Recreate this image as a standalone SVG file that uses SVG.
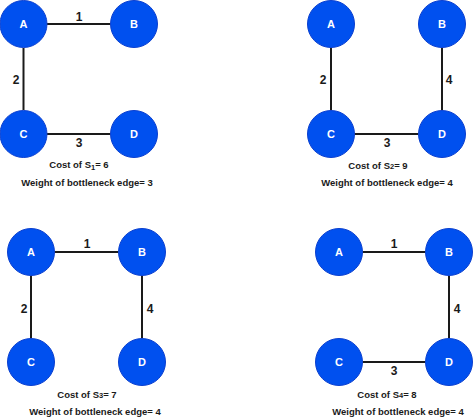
<svg xmlns="http://www.w3.org/2000/svg" width="474" height="418" viewBox="0 0 474 418">
<style>
.n{fill:#0050ef;stroke:#0a3fd0;stroke-width:1}
.nt{fill:#fff;font-family:"Liberation Sans",Arial,sans-serif;font-weight:bold;font-size:11px;text-anchor:middle}
.e{stroke:#1a1a1a;stroke-width:2;fill:none}
.l{fill:#1a1a1a;font-family:"Liberation Sans",Arial,sans-serif;font-weight:bold;font-size:12px;text-anchor:middle}
.c{fill:#1a1a1a;font-family:"Liberation Sans",Arial,sans-serif;font-weight:bold;font-size:9.5px;text-anchor:middle}
</style>
<rect width="474" height="418" fill="#fff"/>
<g id="connectors">
<line class="e" x1="47" y1="24" x2="110" y2="24"/>
<line class="e" x1="23.5" y1="48" x2="23.5" y2="110"/>
<line class="e" x1="47" y1="134" x2="110" y2="134"/>
<line class="e" x1="331" y1="48" x2="331" y2="110"/>
<line class="e" x1="442" y1="48" x2="442" y2="110"/>
<line class="e" x1="355" y1="134" x2="418" y2="134"/>
<line class="e" x1="55" y1="252" x2="118" y2="252"/>
<line class="e" x1="31" y1="276" x2="31" y2="338"/>
<line class="e" x1="142" y1="276" x2="142" y2="338"/>
<line class="e" x1="363" y1="252" x2="425" y2="252"/>
<line class="e" x1="449" y1="276" x2="449" y2="338"/>
<line class="e" x1="363" y1="362" x2="425" y2="362"/>
</g>
<g id="edge-labels">
<text class="l" x="79" y="21">1</text>
<text class="l" x="16" y="84">2</text>
<text class="l" x="79" y="147">3</text>
<text class="l" x="323" y="84">2</text>
<text class="l" x="449" y="84">4</text>
<text class="l" x="387" y="147">3</text>
<text class="l" x="87" y="248">1</text>
<text class="l" x="24" y="313">2</text>
<text class="l" x="150" y="313">4</text>
<text class="l" x="394" y="248">1</text>
<text class="l" x="457" y="313">4</text>
<text class="l" x="394" y="375">3</text>
</g>
<g id="p1A"><circle class="n" cx="23.5" cy="24" r="23.5"/><text class="nt" x="23.5" y="28">A</text></g>
<g id="p1B"><circle class="n" cx="134" cy="24" r="23.5"/><text class="nt" x="134" y="28">B</text></g>
<g id="p1C"><circle class="n" cx="23.5" cy="134" r="23.5"/><text class="nt" x="23.5" y="138">C</text></g>
<g id="p1D"><circle class="n" cx="134" cy="134" r="23.5"/><text class="nt" x="134" y="138">D</text></g>
<g id="p2A"><circle class="n" cx="331" cy="24" r="23.5"/><text class="nt" x="331" y="28">A</text></g>
<g id="p2B"><circle class="n" cx="442" cy="24" r="23.5"/><text class="nt" x="442" y="28">B</text></g>
<g id="p2C"><circle class="n" cx="331" cy="134" r="23.5"/><text class="nt" x="331" y="138">C</text></g>
<g id="p2D"><circle class="n" cx="442" cy="134" r="23.5"/><text class="nt" x="442" y="138">D</text></g>
<g id="p3A"><circle class="n" cx="31" cy="252" r="23.5"/><text class="nt" x="31" y="256">A</text></g>
<g id="p3B"><circle class="n" cx="142" cy="252" r="23.5"/><text class="nt" x="142" y="256">B</text></g>
<g id="p3C"><circle class="n" cx="31" cy="362" r="23.5"/><text class="nt" x="31" y="366">C</text></g>
<g id="p3D"><circle class="n" cx="142" cy="362" r="23.5"/><text class="nt" x="142" y="366">D</text></g>
<g id="p4A"><circle class="n" cx="339" cy="252" r="23.5"/><text class="nt" x="339" y="256">A</text></g>
<g id="p4B"><circle class="n" cx="449" cy="252" r="23.5"/><text class="nt" x="449" y="256">B</text></g>
<g id="p4C"><circle class="n" cx="339" cy="362" r="23.5"/><text class="nt" x="339" y="366">C</text></g>
<g id="p4D"><circle class="n" cx="449" cy="362" r="23.5"/><text class="nt" x="449" y="366">D</text></g>
<g id="captions">
<text class="c" x="79" y="168">Cost of S<tspan font-size="7.5" dy="2">1</tspan><tspan dy="-2">= 6</tspan></text>
<text class="c" x="87" y="186">Weight of bottleneck edge= 3</text>
<text class="c" x="378" y="169">Cost of S<tspan font-size="7.5">2</tspan>= 9</text>
<text class="c" x="387" y="186">Weight of bottleneck edge= 4</text>
<text class="c" x="87" y="398">Cost of S<tspan font-size="7.5">3</tspan>= 7</text>
<text class="c" x="95" y="415">Weight of bottleneck edge= 4</text>
<text class="c" x="387" y="398">Cost of S<tspan font-size="7.5">4</tspan>= 8</text>
<text class="c" x="398" y="415">Weight of bottleneck edge= 4</text>
</g>
</svg>
